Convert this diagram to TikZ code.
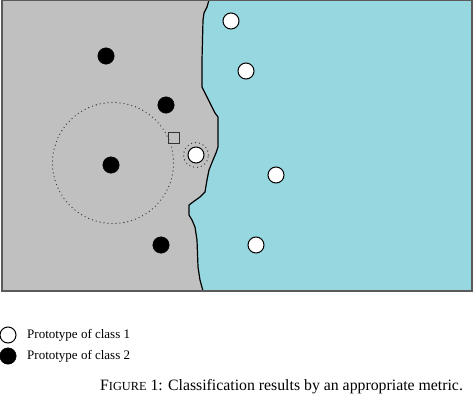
\documentclass[tikz,border=0pt]{standalone}
\usepackage{fontspec}
\setmainfont{Liberation Serif}
\usepackage{tikz}
\usetikzlibrary{positioning}
\definecolor{regionGray}{HTML}{C0C0C0}
\definecolor{regionCyan}{HTML}{96D7E0}
\definecolor{frameInk}{HTML}{5A5A5A}
\newcommand{\figSmallCaps}{F{\fontsize{12.3}{14}\selectfont IGURE}}
\tikzset{
  classOne/.style={
    circle,
    draw=black,
    fill=white,
    line width=1pt,
    minimum size=16pt,
    inner sep=0pt
  },
  classTwo/.style={
    circle,
    draw=black,
    fill=black,
    minimum size=16.5pt,
    inner sep=0pt
  },
  query/.style={
    rectangle,
    draw=black!80,
    line width=1pt,
    minimum size=11pt,
    inner sep=0pt
  },
  reach/.style={
    circle,
    draw=black!80,
    line width=1.3pt,
    line cap=round,
    dash pattern=on 0pt off 4pt,
    inner sep=0pt
  },
  legendText/.style={
    anchor=west,
    font=\fontsize{13}{15}\selectfont,
    inner sep=0pt
  },
  captionText/.style={
    anchor=west,
    font=\fontsize{15.8}{18}\selectfont,
    inner sep=0pt
  }
}

\begin{document}
\begin{tikzpicture}[x=1pt,y=-1pt]
  \useasboundingbox (0,0) rectangle (474,407);
  % regions
  \fill[regionCyan] (2,0) rectangle (472,291);
  \fill[regionGray] (2,0) -- (209,0) -- (207,7) -- (204,13) -- (203,20) -- (202,60)
    -- (202,87) -- (205,93) -- (210,103) -- (215,113) -- (218,117) -- (218,147)
    -- (216,153) -- (213,160) -- (209,170) -- (207,180) -- (205,192) -- (200,197)
    -- (193,202) -- (189,205) -- (189,215) -- (192,220) -- (195,227) -- (197,240)
    -- (198,267) -- (200,280) -- (203,291) -- (2,291) -- cycle;
  \draw[line width=1.2pt] (209,0) -- (207,7) -- (204,13) -- (203,20) -- (202,60)
    -- (202,87) -- (205,93) -- (210,103) -- (215,113) -- (218,117) -- (218,147)
    -- (216,153) -- (213,160) -- (209,170) -- (207,180) -- (205,192) -- (200,197)
    -- (193,202) -- (189,205) -- (189,215) -- (192,220) -- (195,227) -- (197,240)
    -- (198,267) -- (200,280) -- (203,291);
  \draw[frameInk,line width=1.2pt] (2,0) rectangle (472,291);
  % neighbourhoods
  \node[reach,minimum size=121pt] (bigReach) at (113,163) {};
  \node[reach,minimum size=25pt] (smallReach) at (196,155) {};
  \node[query] (sample) at (174,138) {};
  % prototypes of class 2
  \node[classTwo] (twoA) at (106,56) {};
  \node[classTwo] (twoB) at (166,105) {};
  \node[classTwo] (twoC) at (111,165) {};
  \node[classTwo] (twoD) at (161,245) {};
  % prototypes of class 1
  \node[classOne] (oneA) at (231,21) {};
  \node[classOne] (oneB) at (246,71) {};
  \node[classOne] (oneC) at (196,155) {};
  \node[classOne] (oneD) at (276,175) {};
  \node[classOne] (oneE) at (256,245) {};
  % legend
  \node[classOne] (keyOne) at (8,335) {};
  \node[classTwo] (keyTwo) at (8,356) {};
  \node[legendText] (keyOneText) at (27,335) {Prototype of class 1};
  \node[legendText] (keyTwoText) at (27,356) {Prototype of class 2};
  \node[captionText] (caption) at (100,387) {\figSmallCaps{} 1: Classification results by an appropriate metric.};
\end{tikzpicture}
\end{document}
